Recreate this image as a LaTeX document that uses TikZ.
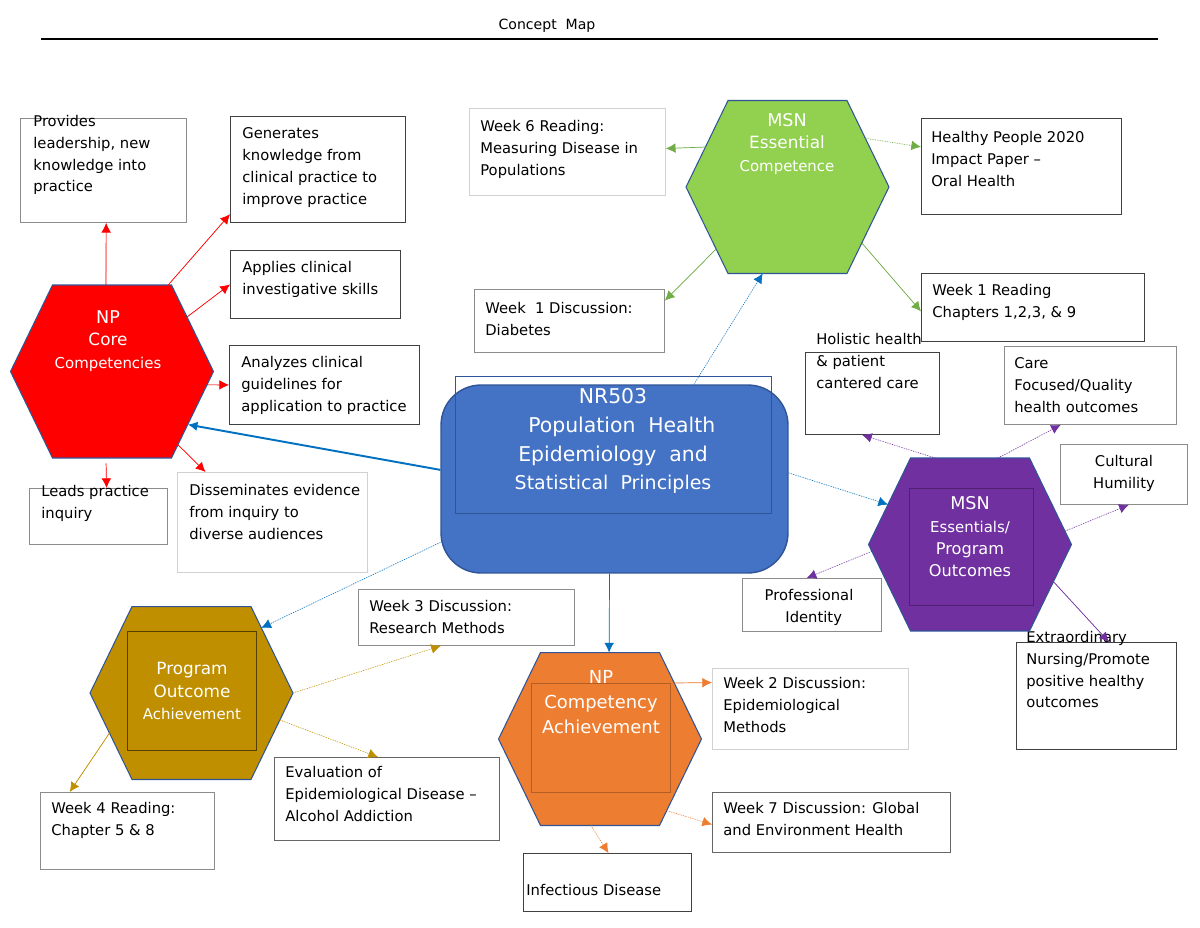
\documentclass[tikz,border=0pt]{standalone}
\usepackage{fontspec}
\setmainfont{DejaVu Sans}
\usetikzlibrary{arrows.meta}

\definecolor{npred}{HTML}{FF0000}
\definecolor{msngreen}{HTML}{92D050}
\definecolor{arrowgreen}{HTML}{70AD47}
\definecolor{hubblue}{HTML}{4472C4}
\definecolor{arrowblue}{HTML}{0070C0}
\definecolor{edgeblue}{HTML}{2F5597}
\definecolor{msnpurple}{HTML}{7030A0}
\definecolor{pogold}{HTML}{BF8F00}
\definecolor{comporange}{HTML}{ED7D31}

% flat topped hexagon, as a node shape
\def\hexcut{0.84cm}
\makeatletter
\pgfdeclareshape{hexbox}{
  \inheritsavedanchors[from=rectangle]
  \inheritanchor[from=rectangle]{center}
  \inheritanchor[from=rectangle]{north}
  \inheritanchor[from=rectangle]{south}
  \inheritanchor[from=rectangle]{east}
  \inheritanchor[from=rectangle]{west}
  \backgroundpath{
    \northeast \pgf@xa=\pgf@x \pgf@ya=\pgf@y
    \pgf@xb=\pgf@xa \advance\pgf@xb by -\hexcut
    \pgfpathmoveto{\pgfqpoint{\pgf@xa}{0pt}}
    \pgfpathlineto{\pgfqpoint{\pgf@xb}{\pgf@ya}}
    \pgfpathlineto{\pgfqpoint{-\pgf@xb}{\pgf@ya}}
    \pgfpathlineto{\pgfqpoint{-\pgf@xa}{0pt}}
    \pgfpathlineto{\pgfqpoint{-\pgf@xb}{-\pgf@ya}}
    \pgfpathlineto{\pgfqpoint{\pgf@xb}{-\pgf@ya}}
    \pgfpathclose
  }
  \anchorborder{
    \edef\hexdx{\the\pgf@x}\edef\hexdy{\the\pgf@y}
    \northeast \edef\hexa{\the\pgf@x}\edef\hexb{\the\pgf@y}
    \pgfmathsetmacro\hext{1/max(abs(\hexdx)/\hexa+abs(\hexdy)/\hexb*\hexcut/\hexa, abs(\hexdy)/\hexb)}
    \pgf@x=\hext\dimexpr\hexdx\relax
    \pgf@y=\hext\dimexpr\hexdy\relax
  }
}
\makeatother

\tikzset{
  hexagon/.style={hexbox, minimum width=4.06cm, minimum height=3.46cm, inner sep=0, outer sep=0, draw=edgeblue, line width=0.6pt},
  darkbox/.style={draw=black!75, line width=0.5pt, anchor=north west, inner sep=0},
  lightbox/.style={draw=black!18, line width=0.5pt, anchor=north west, inner sep=0},
  inbox/.style={align=left, anchor=north west, inner sep=0, yshift=-2pt, font=\fontsize{8.4}{12.5}\selectfont},
  hextext/.style={align=center, text=white, inner sep=0, font=\fontsize{8.5}{12.7}\selectfont},
  link/.style={-{Latex[length=5.5pt,width=5.5pt]}, line width=0.4pt},
  dotlink/.style={link, densely dotted}
}

\begin{document}
\begin{tikzpicture}[x=0.02cm, y=-0.02cm]
\useasboundingbox (0,0) rectangle (1200,927);

\node [inner sep=0, font=\fontsize{8}{10}\selectfont] (title) at (547,26) {Concept\ \ Map};
\coordinate (ruleL) at (41,39);
\coordinate (ruleR) at (1158,39);
\draw [line width=0.8pt] (ruleL) -- (ruleR);

% np core boxes
\node [lightbox, draw=black!45, minimum width=3.32cm, minimum height=2.08cm] (provides) at (20,118) {};
\node [darkbox, minimum width=3.5cm, minimum height=2.12cm] (generates) at (230,116) {};
\node [darkbox, minimum width=3.4cm, minimum height=1.36cm] (applies) at (230,250) {};
\node [darkbox, minimum width=3.8cm, minimum height=1.58cm] (analyzes) at (229,345) {};
\node [lightbox, draw=black!45, minimum width=2.76cm, minimum height=1.12cm] (leads) at (29,488) {};
\node [lightbox, minimum width=3.8cm, minimum height=2cm] (disseminates) at (177,472) {};

\node [inbox] (providesText) at (33,111) {Provides\\leadership, new\\knowledge into\\practice};
\node [inbox] (generatesText) at (242,124) {Generates\\knowledge from\\clinical practice to\\improve practice};
\node [inbox] (appliesText) at (242,257) {Applies clinical\\investigative skills};
\node [inbox] (analyzesText) at (241,352) {Analyzes clinical\\guidelines for\\application to practice};
\node [inbox] (leadsText) at (41,481) {Leads practice\\inquiry};
\node [inbox] (disseminatesText) at (189,480) {Disseminates evidence\\from inquiry to\\diverse audiences};

% msn essential boxes
\node [lightbox, minimum width=3.92cm, minimum height=1.74cm] (weekSix) at (469,108) {};
\node [darkbox, minimum width=4cm, minimum height=1.92cm] (healthy) at (921,118) {};
\node [lightbox, draw=black!45, minimum width=3.8cm, minimum height=1.26cm] (discOne) at (474,289) {};
\node [darkbox, minimum width=4.46cm, minimum height=1.36cm] (readOne) at (921,273) {};

\node [inbox] (weekSixText) at (480,116) {Week 6 Reading:\\Measuring Disease in\\Populations};
\node [inbox] (healthyText) at (931,127) {Healthy People 2020\\Impact Paper --\\Oral Health};
\node [inbox] (discOneText) at (485,298) {Week\ \ 1 Discussion:\\Diabetes};
\node [inbox] (readOneText) at (932,280) {Week 1 Reading\\Chapters 1,2,3, \& 9};

% msn outcome boxes
\node [darkbox, minimum width=2.68cm, minimum height=1.64cm] (holistic) at (805,352) {};
\node [lightbox, draw=black!45, minimum width=3.44cm, minimum height=1.56cm] (care) at (1004,346) {};
\node [lightbox, draw=black!45, minimum width=2.54cm, minimum height=1.2cm] (cultural) at (1060,444) {};
\node [lightbox, draw=black!45, minimum width=2.78cm, minimum height=1.06cm] (identity) at (742,578) {};
\node [darkbox, minimum width=3.2cm, minimum height=2.14cm] (extra) at (1016,642) {};

\node [inbox] (holisticText) at (816,329) {Holistic health\\\& patient\\cantered care};
\node [inbox] (careText) at (1014,354) {Care\\Focused/Quality\\health outcomes};
\node [inbox, align=center, anchor=north] (culturalText) at (1124,451) {Cultural\\Humility};
\node [inbox, align=center, anchor=north] (identityText) at (809,585) {Professional\\\ \ Identity};
\node [inbox] (extraText) at (1026,627) {Extraordinary\\Nursing/Promote\\positive healthy\\outcomes};

% program boxes
\node [lightbox, draw=black!45, minimum width=4.32cm, minimum height=1.12cm] (discThree) at (358,589) {};
\node [darkbox, draw=black!60, minimum width=4.5cm, minimum height=1.66cm] (evaluation) at (274,757) {};
\node [lightbox, draw=black!45, minimum width=3.48cm, minimum height=1.54cm] (readFour) at (40,792) {};

\node [inbox] (discThreeText) at (369,596) {Week 3 Discussion:\\Research Methods};
\node [inbox] (evaluationText) at (285,762) {Evaluation of\\Epidemiological Disease --\\Alcohol Addiction};
\node [inbox] (readFourText) at (51,798) {Week 4 Reading:\\Chapter 5 \& 8};

% competency boxes
\node [lightbox, minimum width=3.92cm, minimum height=1.62cm] (discTwo) at (712,668) {};
\node [darkbox, draw=black!60, minimum width=4.76cm, minimum height=1.2cm] (discSeven) at (712,792) {};
\node [darkbox, minimum width=3.36cm, minimum height=1.16cm] (infectious) at (523,853) {};

\node [inbox] (discTwoText) at (723,673) {Week 2 Discussion:\\Epidemiological\\Methods};
\node [inbox] (discSevenText) at (723,798) {Week 7 Discussion: Global\\and Environment Health};
\node [inbox] (infectiousText) at (526,880) {Infectious Disease};

% hexagons
\node [hexagon, fill=npred] (npCore) at (112,371.5) {};
\node [hexagon, fill=msngreen] (msnCore) at (787.5,187) {};
\node [hexagon, fill=msnpurple] (msnOut) at (970,544.5) {};
\node [hexagon, fill=pogold] (program) at (191.5,693) {};
\node [hexagon, fill=comporange] (npComp) at (600,739) {};

\node [draw=msnpurple!70!black, line width=0.6pt, anchor=north west, inner sep=0, minimum width=2.48cm, minimum height=2.34cm] (msnFrame) at (909,488) {};
\node [draw=pogold!45!black, line width=0.7pt, anchor=north west, inner sep=0, minimum width=2.58cm, minimum height=2.38cm] (programFrame) at (127,631) {};
\node [draw=comporange!75!black, line width=0.7pt, anchor=north west, inner sep=0, minimum width=2.78cm, minimum height=2.18cm] (compFrame) at (531,683) {};

\node [hextext] (npCoreText) at (108,341) {{\fontsize{10}{12.7}\selectfont NP}\\{\fontsize{9.6}{12.7}\selectfont Core}\\Competencies};
\node [hextext] (msnCoreText) at (787,144) {{\fontsize{10}{12.7}\selectfont MSN}\\{\fontsize{9.6}{12.7}\selectfont Essential}\\Competence};
\node [hextext] (msnOutText) at (970,537) {{\fontsize{10}{12.7}\selectfont MSN}\\Essentials/\\{\fontsize{9.2}{12.7}\selectfont Program}\\{\fontsize{9.2}{12.7}\selectfont Outcomes}};
\node [hextext] (programText) at (192,691) {{\fontsize{9.6}{12.7}\selectfont Program}\\{\fontsize{9.6}{12.7}\selectfont Outcome}\\Achievement};
\node [hextext, font=\fontsize{10.2}{14.2}\selectfont] (npCompText) at (601,702) {NP\\Competency\\Achievement};

% hub
\node [rounded corners=0.8cm, fill=hubblue, draw=edgeblue, line width=0.8pt, minimum width=6.94cm, minimum height=3.76cm, inner sep=0] (hub) at (614.5,479) {};
\node [draw=edgeblue, line width=0.7pt, anchor=north west, inner sep=0, minimum width=6.32cm, minimum height=2.74cm] (hubFrame) at (455,376) {};
\node [hextext, font=\fontsize{11.6}{16.4}\selectfont] (hubText) at (613,441) {NR503\\\hspace*{10pt}Population\ \ Health\\Epidemiology\ \ and\\{\fontsize{10.8}{16.4}\selectfont Statistical\ \ Principles}};

% red links
\draw [link, draw=npred, fill=npred] (npCore.94) -- (provides.-87);
\draw [link, draw=npred, fill=npred] (npCore.57.4) -- (generates.207.7);
\draw [link, draw=npred, fill=npred] (npCore.36.1) -- (applies.west);
\draw [link, draw=npred, fill=npred] (npCore.-8.6) -- (analyzes.west);
\draw [link, draw=npred, fill=npred, shorten <=3pt] (npCore.-94) -- (leads.74);
\draw [link, draw=npred, fill=npred] (npCore.-48.5) -- (disseminates.143.7);

% blue links
\draw [link, draw=arrowblue, fill=arrowblue, line width=1.1pt] (hub.177.7) -- (npCore.-35.9);
\draw [dotlink, draw=arrowblue, fill=arrowblue] (hub.50.1) -- (msnCore.-106.5);
\draw [dotlink, draw=arrowblue, fill=arrowblue] (hub.2) -- (msnOut.154.3);
\draw [dotlink, draw=arrowblue, fill=arrowblue] (hub.200.8) -- (program.43.9);
\draw [link, draw=arrowblue, fill=arrowblue] (hub.-93.3) -- (npComp.84);

% green links
\draw [link, draw=arrowgreen, fill=arrowgreen] (msnCore.154.7) -- (weekSix.2.6);
\draw [dotlink, draw=arrowgreen, fill=arrowgreen] (msnCore.32.2) -- (healthy.169.2);
\draw [link, draw=arrowgreen, fill=arrowgreen] (msnCore.221.3) -- (discOne.12.2);
\draw [link, draw=arrowgreen, fill=arrowgreen] (msnCore.-37.5) -- (readOne.182);

% purple links
\draw [dotlink, draw=msnpurple, fill=msnpurple] (msnOut.112) -- (holistic.-104);
\draw [dotlink, draw=msnpurple, fill=msnpurple] (msnOut.72.7) -- (care.-127.6);
\draw [dotlink, draw=msnpurple, fill=msnpurple] (msnOut.8.7) -- (cultural.-81.5);
\draw [dotlink, draw=msnpurple, fill=msnpurple] (msnOut.184.3) -- (identity.101.7);
\draw [link, draw=msnpurple, fill=msnpurple] (msnOut.-24.4) -- (extra.77.4);

% gold links
\draw [dotlink, draw=pogold, fill=pogold] (program.east) -- (discThree.228.2);
\draw [dotlink, draw=pogold, fill=pogold] (program.-17.4) -- (evaluation.102.9);
\draw [link, draw=pogold, fill=pogold] (program.206.2) -- (readFour.146.9);

% orange links
\draw [link, draw=comporange, fill=comporange] (npComp.37.9) -- (discTwo.165.4);
\draw [dotlink, draw=comporange, fill=comporange] (npComp.-47.5) -- (discSeven.181);
\draw [dotlink, draw=comporange, fill=comporange] (npComp.-96) -- (infectious.88);

\end{tikzpicture}
\end{document}
